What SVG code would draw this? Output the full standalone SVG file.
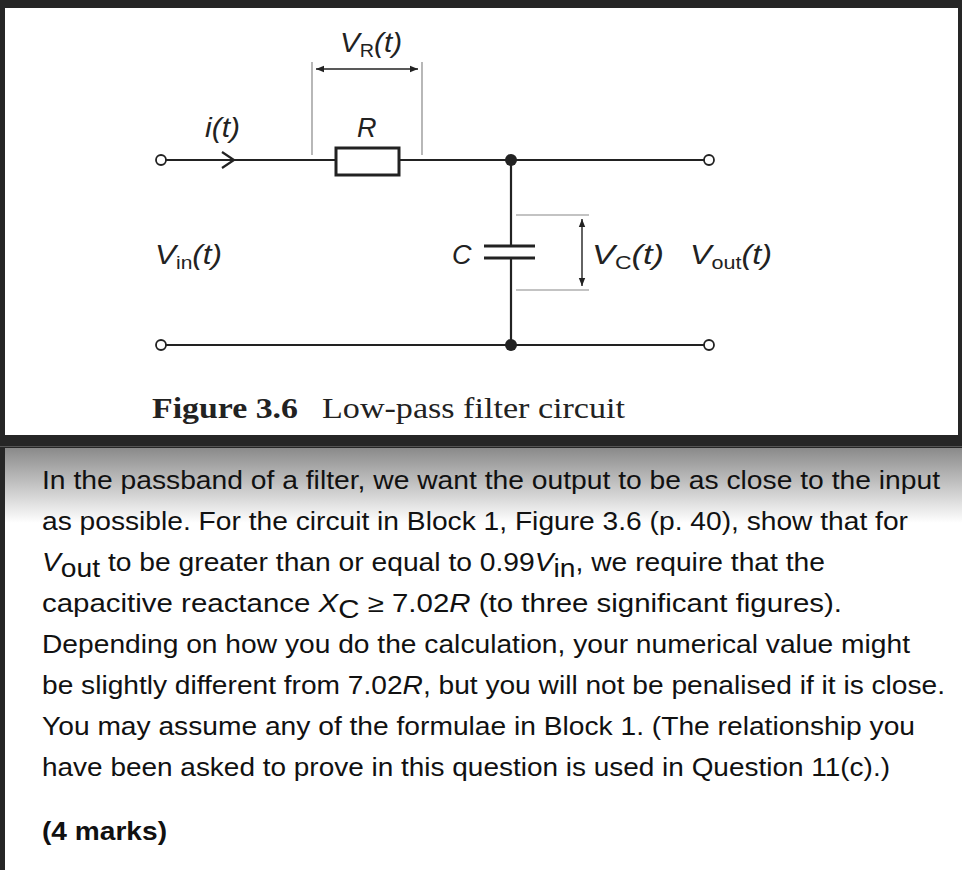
<svg xmlns="http://www.w3.org/2000/svg" width="962" height="870" viewBox="0 0 962 870">
<defs>
<style>
.w{stroke:#222;stroke-width:2.2;fill:none}
.g{stroke:#888;stroke-width:1.2;fill:none}
.lab{font-family:"Liberation Sans",Arial,sans-serif;font-size:27px;font-style:italic;fill:#222}
.sub{font-style:normal;font-size:18px}
.t{font-family:"Liberation Sans",Arial,sans-serif;font-size:25px;fill:#111}
.cap{font-family:"Liberation Serif","Times New Roman",serif;font-size:30px;fill:#222}
</style>
<linearGradient id="bg" x1="0" y1="0" x2="0" y2="1">
<stop offset="0" stop-color="#8a8a8a"/><stop offset="1" stop-color="#ffffff"/>
</linearGradient>
<marker id="ah" viewBox="0 0 10 10" refX="10" refY="5" markerWidth="8" markerHeight="8" markerUnits="userSpaceOnUse" orient="auto-start-reverse">
<path d="M0,1 L10,5 L0,9 Z" fill="#222"/>
</marker>
</defs>
<rect width="962" height="870" fill="#262626"/>
<rect x="5" y="8" width="953" height="427" fill="#fff"/>
<rect x="5" y="448" width="957" height="422" fill="#fff"/>
<rect x="5" y="448" width="957" height="75" fill="url(#bg)"/>
<line x1="0" y1="446.5" x2="962" y2="446.5" stroke="#555" stroke-width="1"/>
<g id="connectors">
<line class="w" x1="166" y1="160" x2="335" y2="160"/>
<polyline class="w" points="222,152 234,160 222,168" stroke-width="1.6"/>
<line class="w" x1="400" y1="160" x2="704" y2="160"/>
<line class="w" x1="166" y1="345" x2="704" y2="345"/>
<line class="w" x1="511" y1="160" x2="511" y2="246"/>
<line class="w" x1="511" y1="258" x2="511" y2="345"/>
<line class="g" x1="312" y1="62" x2="312" y2="155"/>
<line class="g" x1="422" y1="62" x2="422" y2="155"/>
<line x1="316" y1="69" x2="418" y2="69" stroke="#222" stroke-width="1.4" marker-start="url(#ah)" marker-end="url(#ah)"/>
<line class="g" x1="516" y1="215" x2="589" y2="215"/>
<line class="g" x1="516" y1="290" x2="589" y2="290"/>
<line x1="582" y1="219" x2="582" y2="286" stroke="#222" stroke-width="1.4" marker-start="url(#ah)" marker-end="url(#ah)"/>
</g>
<g id="terminals">
<circle cx="161" cy="160" r="5" fill="#fff" stroke="#222" stroke-width="1.8"/>
<circle cx="709" cy="160" r="5" fill="#fff" stroke="#222" stroke-width="1.8"/>
<circle cx="161" cy="345" r="5" fill="#fff" stroke="#222" stroke-width="1.8"/>
<circle cx="709" cy="345" r="5" fill="#fff" stroke="#222" stroke-width="1.8"/>
<circle cx="511" cy="160" r="6" fill="#222"/>
<circle cx="511" cy="345" r="6" fill="#222"/>
</g>
<g id="resistor">
<rect x="336" y="148" width="63" height="27" fill="#fff" stroke="#222" stroke-width="3"/>
<text class="lab" x="357" y="137">R</text>
</g>
<g id="capacitor">
<line x1="484" y1="246" x2="535" y2="246" stroke="#222" stroke-width="3"/>
<line x1="484" y1="258" x2="535" y2="258" stroke="#222" stroke-width="3"/>
<text class="lab" x="452" y="264">C</text>
</g>
<g id="labels">
<text class="lab" x="340" y="52" textLength="62" lengthAdjust="spacingAndGlyphs">V<tspan class="sub" dy="5">R</tspan><tspan dy="-5">(t)</tspan></text>
<text class="lab" x="205" y="137" textLength="35" lengthAdjust="spacingAndGlyphs">i(t)</text>
<text class="lab" x="155" y="264" textLength="67" lengthAdjust="spacingAndGlyphs">V<tspan class="sub" dy="5">in</tspan><tspan dy="-5">(t)</tspan></text>
<text class="lab" x="592" y="264" textLength="72" lengthAdjust="spacingAndGlyphs">V<tspan class="sub" dy="5">C</tspan><tspan dy="-5">(t)</tspan></text>
<text class="lab" x="690" y="264" textLength="82" lengthAdjust="spacingAndGlyphs">V<tspan class="sub" dy="5">out</tspan><tspan dy="-5">(t)</tspan></text>
</g>
<g id="caption">
<text class="cap" x="152" y="418" font-weight="bold" textLength="146" lengthAdjust="spacingAndGlyphs">Figure 3.6</text>
<text class="cap" x="322" y="418" textLength="303" lengthAdjust="spacingAndGlyphs">Low-pass filter circuit</text>
</g>
<g id="question">
<text class="t" x="42" y="489" textLength="898" lengthAdjust="spacingAndGlyphs">In the passband of a filter, we want the output to be as close to the input</text>
<text class="t" x="42" y="530" textLength="866" lengthAdjust="spacingAndGlyphs">as possible. For the circuit in Block 1, Figure 3.6 (p. 40), show that for</text>
<text class="t" x="42" y="571" textLength="783" lengthAdjust="spacingAndGlyphs"><tspan font-style="italic">V</tspan><tspan dy="6">out</tspan><tspan dy="-6"> to be greater than or equal to 0.99</tspan><tspan font-style="italic">V</tspan><tspan dy="6">in</tspan><tspan dy="-6">, we require that the</tspan></text>
<text class="t" x="42" y="612" textLength="800" lengthAdjust="spacingAndGlyphs">capacitive reactance <tspan font-style="italic">X</tspan><tspan dy="6">C</tspan><tspan dy="-6"> ≥ 7.02</tspan><tspan font-style="italic">R</tspan> (to three significant figures).</text>
<text class="t" x="42" y="653" textLength="868" lengthAdjust="spacingAndGlyphs">Depending on how you do the calculation, your numerical value might</text>
<text class="t" x="42" y="694" textLength="903" lengthAdjust="spacingAndGlyphs">be slightly different from 7.02<tspan font-style="italic">R</tspan>, but you will not be penalised if it is close.</text>
<text class="t" x="42" y="735" textLength="873" lengthAdjust="spacingAndGlyphs">You may assume any of the formulae in Block 1. (The relationship you</text>
<text class="t" x="42" y="776" textLength="848" lengthAdjust="spacingAndGlyphs">have been asked to prove in this question is used in Question 11(c).)</text>
<text class="t" x="42" y="840" font-weight="bold" textLength="125" lengthAdjust="spacingAndGlyphs">(4 marks)</text>
</g>
</svg>
